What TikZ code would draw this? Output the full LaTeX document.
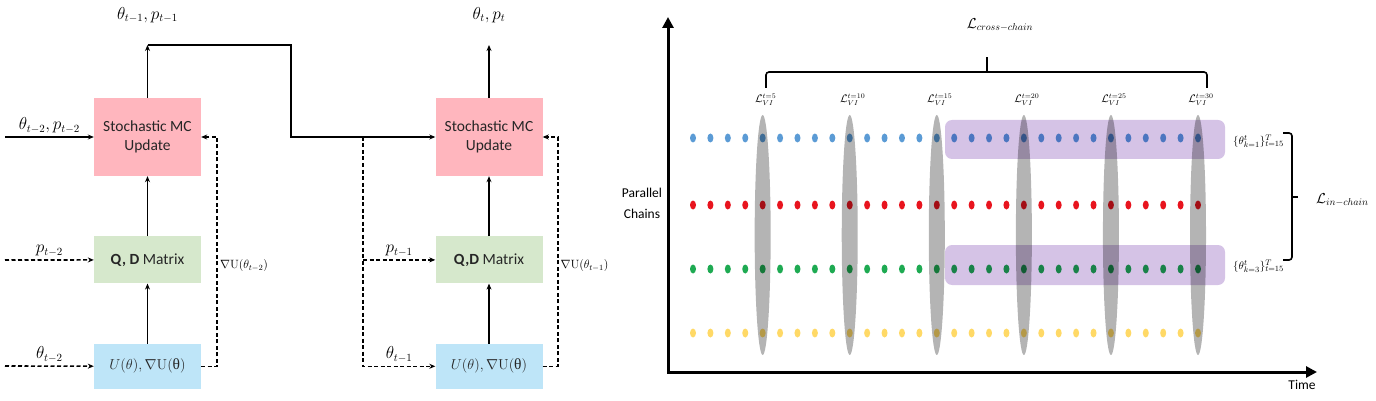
\documentclass[tikz,border=0pt]{standalone}
\usepackage[no-math]{fontspec}
\setmainfont{Carlito}
\newfontfamily\grecdroit{Liberation Serif}
\usepackage{tikz}
\usetikzlibrary{arrows.meta, positioning}
\definecolor{rose}{HTML}{FFB6BE}
\definecolor{vertclair}{HTML}{D6E8CC}
\definecolor{bleuclair}{HTML}{BEE5F8}
\definecolor{bleupt}{HTML}{5B9BD5}
\definecolor{rougept}{HTML}{E8141E}
\definecolor{vertpt}{HTML}{1EAA52}
\definecolor{jaunept}{HTML}{FFD966}
\definecolor{violet}{HTML}{D5C3E6}
\definecolor{grisovale}{HTML}{B4B4B4}
\tikzset{
  bloc/.style={rectangle, minimum width=107pt, inner sep=2pt, align=center,
    font=\fontsize{15.5}{18.5}\selectfont, text=black!85},
  blocrose/.style={bloc, fill=rose, minimum height=78pt},
  blocvert/.style={bloc, fill=vertclair, minimum height=47pt},
  blocbleu/.style={bloc, fill=bleuclair, minimum height=45pt},
  fleche/.style={-{Stealth[length=6pt, width=5pt]}, line width=1.6pt},
  flechepointillee/.style={fleche, dash pattern=on 4pt off 2.5pt},
  etiquette/.style={font=\fontsize{16}{19}\selectfont, inner sep=3pt},
  etiqgrad/.style={font=\fontsize{11.5}{14}\selectfont, inner sep=2pt},
  etiqaxe/.style={font=\fontsize{13.5}{21}\selectfont, align=center, inner sep=0pt},
  etiqvi/.style={font=\fontsize{10.5}{12}\selectfont, inner sep=0pt},
  etiqens/.style={font=\fontsize{11}{13}\selectfont, inner sep=0pt},
  etiqperte/.style={font=\fontsize{14}{16}\selectfont, inner sep=0pt},
  axe/.style={line width=3pt,
    {Triangle[length=11pt, width=11pt]}-{Triangle[length=11pt, width=11pt]}},
  accolade/.style={line width=1.6pt, rounded corners=3pt},
  fenetre/.style={fill=violet, rounded corners=7pt},
  ovale/.style={fill=grisovale}
}

\begin{document}
\begin{tikzpicture}[x=1pt, y=-1pt]
  \useasboundingbox (0,0) rectangle (1376,401);

  % --- pas t-1
  \node[blocrose] (majA) at (147.5,137) {Stochastic MC\\Update};
  \node[blocvert, below=60pt of majA] (matA) {\textbf{Q, D} Matrix};
  \node[blocbleu, below=60pt of matA] (gradA) {$U(\theta),\nabla\mathrm{U}(${\grecdroit θ}$)$};

  \coordinate (entA) at (5,137);
  \coordinate (entpA) at (5,260);
  \coordinate (entthA) at (5,366);
  \coordinate (sortA) at (147.5,45);
  \coordinate (coude) at (291,137);
  \node[etiquette] (titreA) at (147.5,15) {$\theta_{t-1},p_{t-1}$};

  \draw[fleche] (entA) -- node[etiquette, above] {$\theta_{t-2},p_{t-2}$} (majA);
  \draw[flechepointillee] (entpA) -- node[etiquette, above] {$p_{t-2}$} (matA);
  \draw[flechepointillee] (entthA) -- node[etiquette, above] {$\theta_{t-2}$} (gradA);
  \draw[fleche] (gradA) -- (matA);
  \draw[fleche] (matA) -- (majA);
  \draw[flechepointillee] (gradA.east) -- ++(16,0)
    |- node[etiqgrad, pos=0.22, right] {$\nabla\mathrm{U}(\theta_{t-2})$} (majA.east);
  \draw[fleche] (majA) -- (sortA);

  % --- pas t
  \node[blocrose] (majB) at (489,137) {Stochastic MC\\Update};
  \node[blocvert, below=60pt of majB] (matB) {\textbf{Q,D} Matrix};
  \node[blocbleu, below=60pt of matB] (gradB) {$U(\theta),\nabla\mathrm{U}(${\grecdroit θ}$)$};

  \coordinate (derivB) at (363,137);
  \coordinate (sortB) at (489,45);
  \node[etiquette] (titreB) at (489,15) {$\theta_{t},p_{t}$};

  \draw[fleche] (sortA) -| (coude) -- (majB);
  \draw[flechepointillee] (derivB) |- node[etiquette, pos=0.75, above] {$\theta_{t-1}$} (gradB);
  \draw[flechepointillee] (derivB |- matB) -- node[etiquette, above] {$p_{t-1}$} (matB);
  \draw[fleche] (gradB) -- (matB);
  \draw[fleche] (matB) -- (majB);
  \draw[flechepointillee] (gradB.east) -- ++(15,0)
    |- node[etiqgrad, pos=0.22, right] {$\nabla\mathrm{U}(\theta_{t-1})$} (majB.east);
  \draw[fleche] (majB) -- (sortB);

  % --- chaines paralleles
  \coordinate (haut) at (668,17);
  \coordinate (droite) at (1317,372);
  \draw[axe] (haut) |- (droite);
  \node[etiqaxe] (temps) at (1302,385) {Time};
  \node[etiqaxe] (chaines) at (642,203) {Parallel\\Chains};

  \foreach \y/\c in {138/bleupt, 205/rougept, 269/vertpt, 333/jaunept}
    \foreach \i in {0,...,29}
      \fill[\c] ({693+\i*17.414},\y) ellipse [x radius=3, y radius=4.5];

  \begin{scope}[blend mode=multiply]
    \fill[fenetre] (945,120) rectangle (1225,159);
    \fill[fenetre] (945,245) rectangle (1225,285);
    \foreach \t in {5,10,...,30}
      \fill[ovale] ({693+(\t-1)*17.414},235) ellipse [x radius=8, y radius=120];
  \end{scope}

  \foreach \t in {5,10,...,30}
    \node[etiqvi] (lvi\t) at ({696+(\t-1)*17.414},100) {$\mathcal{L}_{VI}^{t=\t}$};

  \node[etiqens, anchor=west] (ensA) at (1233,141) {$\{\theta_{k=1}^{t}\}_{t=15}^{T}$};
  \node[etiqens, anchor=west] (ensC) at (1233,266) {$\{\theta_{k=3}^{t}\}_{t=15}^{T}$};

  % accolades
  \coordinate (accG) at (766,88);
  \coordinate (accD) at (1207,88);
  \coordinate (accC) at (987,72);
  \coordinate (accM) at (987,57);
  \draw[accolade] (accG) |- (accC) -| (accD);
  \draw[accolade] (accC) -- (accM);
  \node[etiqperte] (lcroise) at (1000,25) {$\mathcal{L}_{cross-chain}$};

  \coordinate (accH) at (1283,133);
  \coordinate (accB) at (1283,260);
  \coordinate (accV) at (1292,197);
  \coordinate (accP) at (1298,197);
  \draw[accolade] (accH) -| (accV) |- (accB);
  \draw[accolade] (accV) -- (accP);
  \node[etiqperte, anchor=west] (linterne) at (1316,200) {$\mathcal{L}_{in-chain}$};
\end{tikzpicture}
\end{document}
